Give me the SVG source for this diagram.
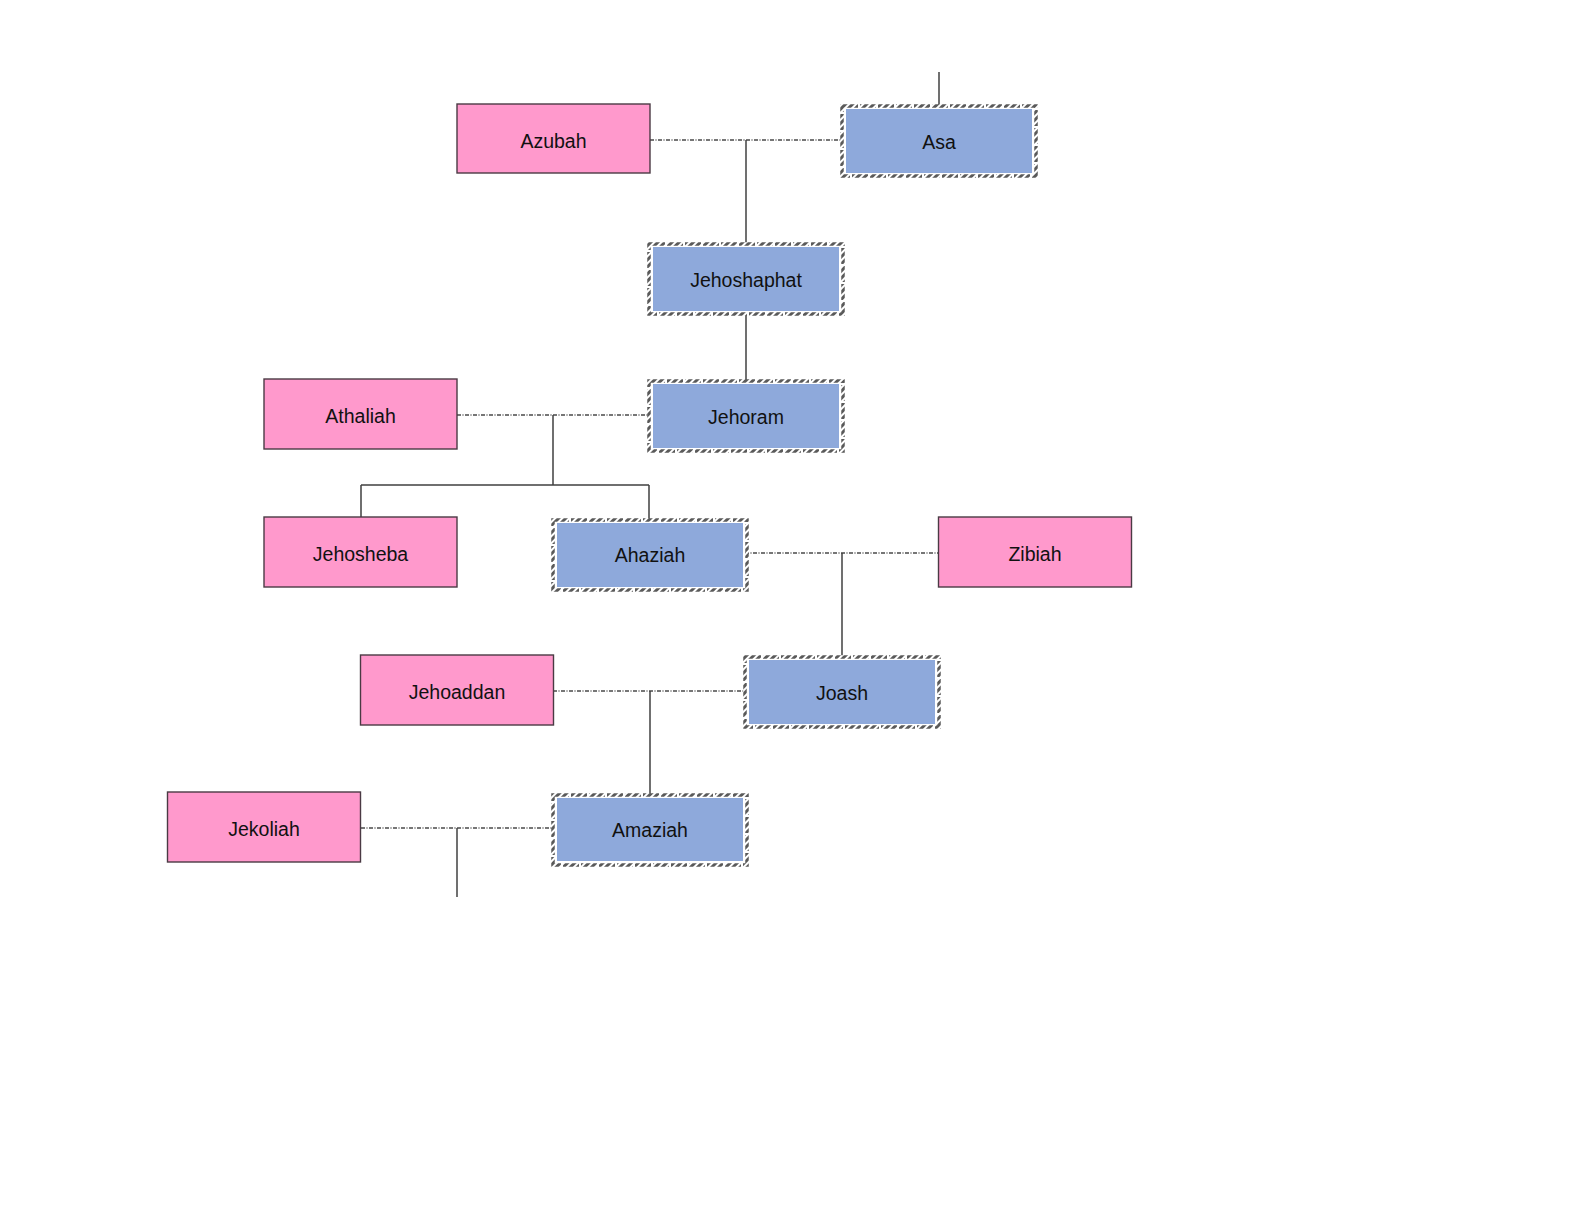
<svg xmlns="http://www.w3.org/2000/svg" width="1588" height="1227" viewBox="0 0 1588 1227">
<style>
.pink{fill:#FF99CC;stroke:#4a3a44;stroke-width:1.4}
.blue{fill:#8EA9DB}
.hatch{fill:none;stroke:url(#hatch);stroke-width:3.5;stroke-dasharray:16 2}
.lbl{font-family:"Liberation Sans",Arial,sans-serif;font-size:19.5px;fill:#111;text-anchor:middle}
.solid{fill:none;stroke:#404040;stroke-width:1.5}
.marr{fill:none;stroke:#4a4a4a;stroke-width:1.4;stroke-dasharray:4 1.5 1 1.5}
</style>
<defs>
<pattern id="hatch" width="5" height="5" patternUnits="userSpaceOnUse" patternTransform="rotate(45)">
<rect width="5" height="5" fill="#fff"/>
<rect width="3" height="5" fill="#5a5a5a"/>
</pattern>
</defs>
<rect width="1588" height="1227" fill="#fff"/>
<g id="connectors">
<path class="solid" d="M939 72V106"/>
<path class="marr" d="M650 140H843"/>
<path class="solid" d="M746 140V245"/>
<path class="solid" d="M746 313V382"/>
<path class="marr" d="M457 415H650"/>
<path class="solid" d="M553 415V485M361 485H649M361 485V517M649 485V520"/>
<path class="marr" d="M745 553H938"/>
<path class="solid" d="M842 553V658"/>
<path class="marr" d="M553 691H746"/>
<path class="solid" d="M650 691V795"/>
<path class="marr" d="M361 828H553"/>
<path class="solid" d="M457 828V897"/>
</g>
<g id="azubah"><rect class="pink" x="457" y="104" width="193" height="69"/><text class="lbl" x="553.5" y="148">Azubah</text></g>
<g id="asa"><rect class="hatch" x="842" y="106" width="194" height="70"/><rect class="blue" x="846" y="109" width="186" height="64"/><text class="lbl" x="939" y="149">Asa</text></g>
<g id="jehoshaphat"><rect class="hatch" x="649" y="244" width="194" height="70"/><rect class="blue" x="653" y="247" width="186" height="64"/><text class="lbl" x="746" y="287">Jehoshaphat</text></g>
<g id="athaliah"><rect class="pink" x="264" y="379" width="193" height="70"/><text class="lbl" x="360.5" y="423">Athaliah</text></g>
<g id="jehoram"><rect class="hatch" x="649" y="381" width="194" height="70"/><rect class="blue" x="653" y="384" width="186" height="64"/><text class="lbl" x="746" y="424">Jehoram</text></g>
<g id="jehosheba"><rect class="pink" x="264" y="517" width="193" height="70"/><text class="lbl" x="360.5" y="561">Jehosheba</text></g>
<g id="ahaziah"><rect class="hatch" x="553" y="520" width="194" height="70"/><rect class="blue" x="557" y="523" width="186" height="64"/><text class="lbl" x="650" y="562">Ahaziah</text></g>
<g id="zibiah"><rect class="pink" x="938.5" y="517" width="193" height="70"/><text class="lbl" x="1035" y="561">Zibiah</text></g>
<g id="jehoaddan"><rect class="pink" x="360.5" y="655" width="193" height="70"/><text class="lbl" x="457" y="699">Jehoaddan</text></g>
<g id="joash"><rect class="hatch" x="745" y="657" width="194" height="70"/><rect class="blue" x="749" y="660" width="186" height="64"/><text class="lbl" x="842" y="700">Joash</text></g>
<g id="jekoliah"><rect class="pink" x="167.5" y="792" width="193" height="70"/><text class="lbl" x="264" y="836">Jekoliah</text></g>
<g id="amaziah"><rect class="hatch" x="553" y="795" width="194" height="70"/><rect class="blue" x="557" y="798" width="186" height="63"/><text class="lbl" x="650" y="837">Amaziah</text></g>
</svg>
